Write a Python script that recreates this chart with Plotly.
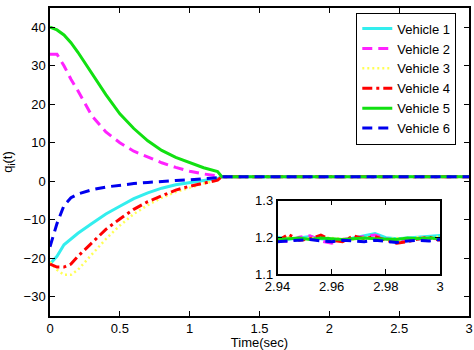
import plotly.graph_objects as go

# transient phase time samples (sec)
t_trans = [0, 0.05, 0.1, 0.15, 0.2, 0.3, 0.4, 0.5, 0.6, 0.7, 0.8, 0.9, 1.0, 1.1, 1.2, 1.23]
# converged phase time samples used in the main plot
t_tail = [1.3, 1.5, 1.8, 2.1, 2.4, 2.7, 2.93]
# zoomed window time samples
t_zoom = [2.94, 2.944, 2.948, 2.952, 2.956, 2.96, 2.964, 2.968, 2.972, 2.976, 2.98, 2.984, 2.988, 2.992, 2.996, 3.0]

names = ["Vehicle 1", "Vehicle 2", "Vehicle 3", "Vehicle 4", "Vehicle 5", "Vehicle 6"]

v1_trans = [-21.5, -19.5, -16.5, -15.0, -13.5, -11.0, -8.5, -6.5, -4.5, -3.0, -1.8, -0.9, -0.3, 0.2, 0.7, 1.2]
v2_trans = [33.0, 33.0, 30.0, 26.5, 23.5, 17.0, 12.8, 10.0, 7.8, 6.2, 4.8, 3.6, 2.6, 1.9, 1.4, 1.2]
v3_trans = [-21.0, -23.0, -24.3, -24.3, -23.0, -19.0, -15.0, -11.5, -8.5, -6.2, -4.3, -2.8, -1.6, -0.6, 0.3, 1.2]
v4_trans = [-21.5, -22.3, -22.3, -21.5, -19.5, -16.0, -12.5, -9.8, -7.3, -5.3, -3.7, -2.3, -1.3, -0.5, 0.3, 1.2]
v5_trans = [40.0, 39.3, 38.0, 36.0, 33.5, 28.0, 22.5, 17.5, 13.7, 10.5, 8.0, 6.2, 4.8, 3.5, 2.5, 1.2]
v6_trans = [-17.0, -11.0, -6.3, -4.3, -3.3, -2.2, -1.5, -1.0, -0.6, -0.3, 0.0, 0.2, 0.4, 0.6, 0.9, 1.2]

v1_tail = [1.2, 1.2, 1.2, 1.2, 1.2, 1.2, 1.2]
v2_tail = [1.2, 1.2, 1.2, 1.2, 1.2, 1.2, 1.2]
v3_tail = [1.2, 1.2, 1.2, 1.2, 1.2, 1.2, 1.2]
v4_tail = [1.2, 1.2, 1.2, 1.2, 1.2, 1.2, 1.2]
v5_tail = [1.2, 1.2, 1.2, 1.2, 1.2, 1.2, 1.2]
v6_tail = [1.2, 1.2, 1.2, 1.2, 1.2, 1.2, 1.2]

v1_zoom = [1.200, 1.195, 1.198, 1.202, 1.196, 1.194, 1.190, 1.198, 1.204, 1.210, 1.199, 1.196, 1.198, 1.200, 1.203, 1.205]
v2_zoom = [1.192, 1.188, 1.200, 1.204, 1.190, 1.184, 1.194, 1.198, 1.200, 1.206, 1.196, 1.190, 1.192, 1.194, 1.198, 1.195]
v3_zoom = [1.196, 1.200, 1.194, 1.196, 1.200, 1.198, 1.196, 1.194, 1.200, 1.198, 1.194, 1.198, 1.196, 1.200, 1.198, 1.202]
v4_zoom = [1.190, 1.208, 1.192, 1.196, 1.206, 1.192, 1.188, 1.204, 1.196, 1.202, 1.192, 1.184, 1.188, 1.196, 1.200, 1.192]
v5_zoom = [1.194, 1.196, 1.198, 1.194, 1.198, 1.196, 1.194, 1.196, 1.198, 1.196, 1.196, 1.194, 1.198, 1.196, 1.198, 1.196]
v6_zoom = [1.188, 1.190, 1.192, 1.194, 1.190, 1.188, 1.192, 1.190, 1.188, 1.192, 1.190, 1.186, 1.190, 1.192, 1.190, 1.194]

x_ticks = [0, 0.5, 1, 1.5, 2, 2.5, 3]
y_ticks = [-30, -20, -10, 0, 10, 20, 30, 40]
zx_ticks = [2.94, 2.96, 2.98, 3]
zx_labels = ["2.94", "2.96", "2.98", "3"]
zy_ticks = [1.1, 1.2, 1.3]

trans = [v1_trans, v2_trans, v3_trans, v4_trans, v5_trans, v6_trans]
tails = [v1_tail, v2_tail, v3_tail, v4_tail, v5_tail, v6_tail]
zooms = [v1_zoom, v2_zoom, v3_zoom, v4_zoom, v5_zoom, v6_zoom]
colors = ["#33eeee", "#ff22ff", "#ffff55", "#ff0000", "#11e011", "#0000ee"]
dashes = ["solid", "10px,6px", "2px,3px", "10px,4px,3px,4px", "solid", "10px,6px"]
widths = [3, 3, 2.5, 3, 3, 3]

fig = go.Figure()
for i in range(6):
    fig.add_trace(go.Scatter(
        x=t_trans + t_tail + t_zoom, y=trans[i] + tails[i] + zooms[i],
        mode="lines", name=names[i],
        line=dict(color=colors[i], width=widths[i], dash=dashes[i]),
        xaxis="x", yaxis="y"))
for i in range(6):
    fig.add_trace(go.Scatter(
        x=t_zoom, y=zooms[i], mode="lines", showlegend=False,
        line=dict(color=colors[i], width=widths[i], dash=dashes[i]),
        xaxis="x2", yaxis="y2"))

axis_common = dict(showgrid=False, zeroline=False, showline=True, linecolor="black",
                   linewidth=1.5, mirror="allticks", ticks="inside", ticklen=5,
                   tickcolor="black", tickfont=dict(size=13, color="black"))

fig.update_layout(
    width=474, height=350,
    margin=dict(l=50, r=4, t=1, b=34),
    paper_bgcolor="white", plot_bgcolor="white",
    font=dict(family="Arial, Liberation Sans, sans-serif", size=13, color="black"),
    xaxis=dict(range=[0, 3], tickvals=x_ticks, domain=[0, 1],
               title=dict(text="Time(sec)", standoff=0, font=dict(size=13)), **axis_common),
    yaxis=dict(range=[-35, 45], tickvals=y_ticks, domain=[0, 1],
               title=dict(text="q<sub>i</sub>(t)", standoff=10, font=dict(size=13)), **axis_common),
    xaxis2=dict(range=[2.94, 3], tickvals=zx_ticks, ticktext=zx_labels,
                domain=[0.543, 0.931], anchor="y2", **axis_common),
    yaxis2=dict(range=[1.1, 1.3], tickvals=zy_ticks, domain=[0.1365, 0.3746],
                anchor="x2", **axis_common),
    legend=dict(x=0.731, y=0.985, xanchor="left", yanchor="top",
                bgcolor="white", bordercolor="black", borderwidth=1,
                font=dict(size=13), tracegroupgap=0),
    showlegend=True,
)

fig.write_html("out.html")
